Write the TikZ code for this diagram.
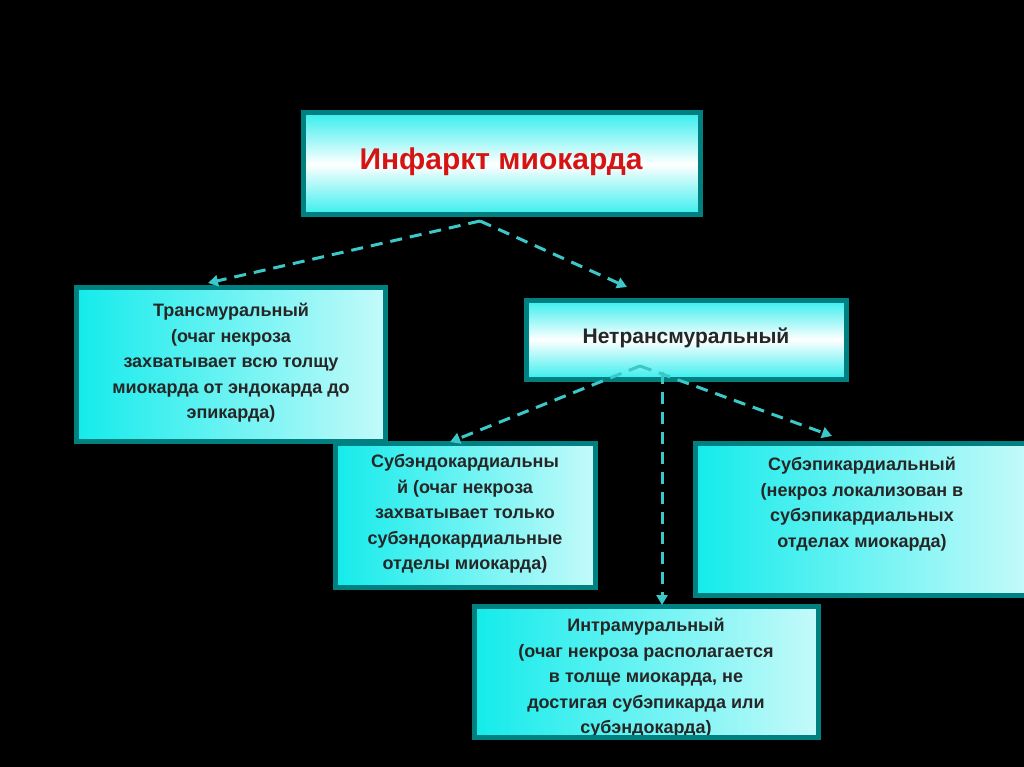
\documentclass[tikz,border=0pt]{standalone}
\usepackage{fontspec}
\setmainfont{Liberation Sans}
\usetikzlibrary{arrows.meta}
\definecolor{bord}{RGB}{0,128,128}
\definecolor{cy}{RGB}{20,235,235}
\definecolor{ar}{RGB}{60,200,200}
\definecolor{tred}{RGB}{215,20,20}
\tikzset{
 vbox/.style={top color=cy!85, bottom color=cy!85, middle color=white},
 hbox/.style={left color=cy, right color=cy!25},
 frame/.style={draw=bord, line width=5pt},
 txt/.style={align=center, font=\bfseries\fontsize{18}{25.5}\selectfont, text=black!85},
 conn/.style={draw=ar, line width=3pt, dash pattern=on 12pt off 8pt, -{Triangle[length=10pt,width=11pt]}},
}
\begin{document}
\begin{tikzpicture}[x=1pt,y=-1pt]
\fill[black] (0,0) rectangle (1024,767);
\useasboundingbox (0,0) rectangle (1024,767);
% top
\path[vbox] (303,113) rectangle (700,215);
\draw[frame] (303,113) rectangle (700,215);
\node[font=\bfseries\fontsize{30}{34}\selectfont, text=tred] (top) at (501,162) {Инфаркт миокарда};
% transmural
\path[hbox] (76,287) rectangle (385,441);
\draw[frame] (76,287) rectangle (385,441);
\node[txt] (tr) at (231,363) {Трансмуральный\\(очаг некроза\\захватывает всю толщу\\миокарда от эндокарда до\\эпикарда)};
% netransmural
\path[vbox] (526,300) rectangle (846,379);
\draw[frame] (526,300) rectangle (846,379);
\node[font=\bfseries\fontsize{21}{24}\selectfont, text=black!85] (nt) at (686,338) {Нетрансмуральный};
% subendo
\path[hbox] (335,443) rectangle (595,587);
\draw[frame] (335,443) rectangle (595,587);
\node[txt] (se) at (465,514) {Субэндокардиальны\\й (очаг некроза\\захватывает только\\субэндокардиальные\\отделы миокарда)};
% subepi
\path[hbox] (695,443) rectangle (1026,595);
\draw[frame] (695,443) rectangle (1026,595);
\node[txt] (sp) at (862,504) {Субэпикардиальный\\(некроз локализован в\\субэпикардиальных\\отделах миокарда)};
% intra
\path[hbox] (474,606) rectangle (818,737);
\begin{scope}
\clip (474,606) rectangle (818,737);
\node[txt] (im) at (646,678) {Интрамуральный\\(очаг некроза располагается\\в толще миокарда, не\\достигая субэпикарда или\\субэндокарда)};
\end{scope}
\draw[frame] (474,606) rectangle (818,737);
% connectors
\coordinate (a) at (480,221);
\coordinate (b) at (640,366);
\path[conn] (a) -- (208,283);
\path[conn] (a) -- (627,287);
\path[conn] (b) -- (450,442);
\path[conn] (b) -- (832,436);
\path[conn] (662,372) -- (662,605);
\end{tikzpicture}
\end{document}
